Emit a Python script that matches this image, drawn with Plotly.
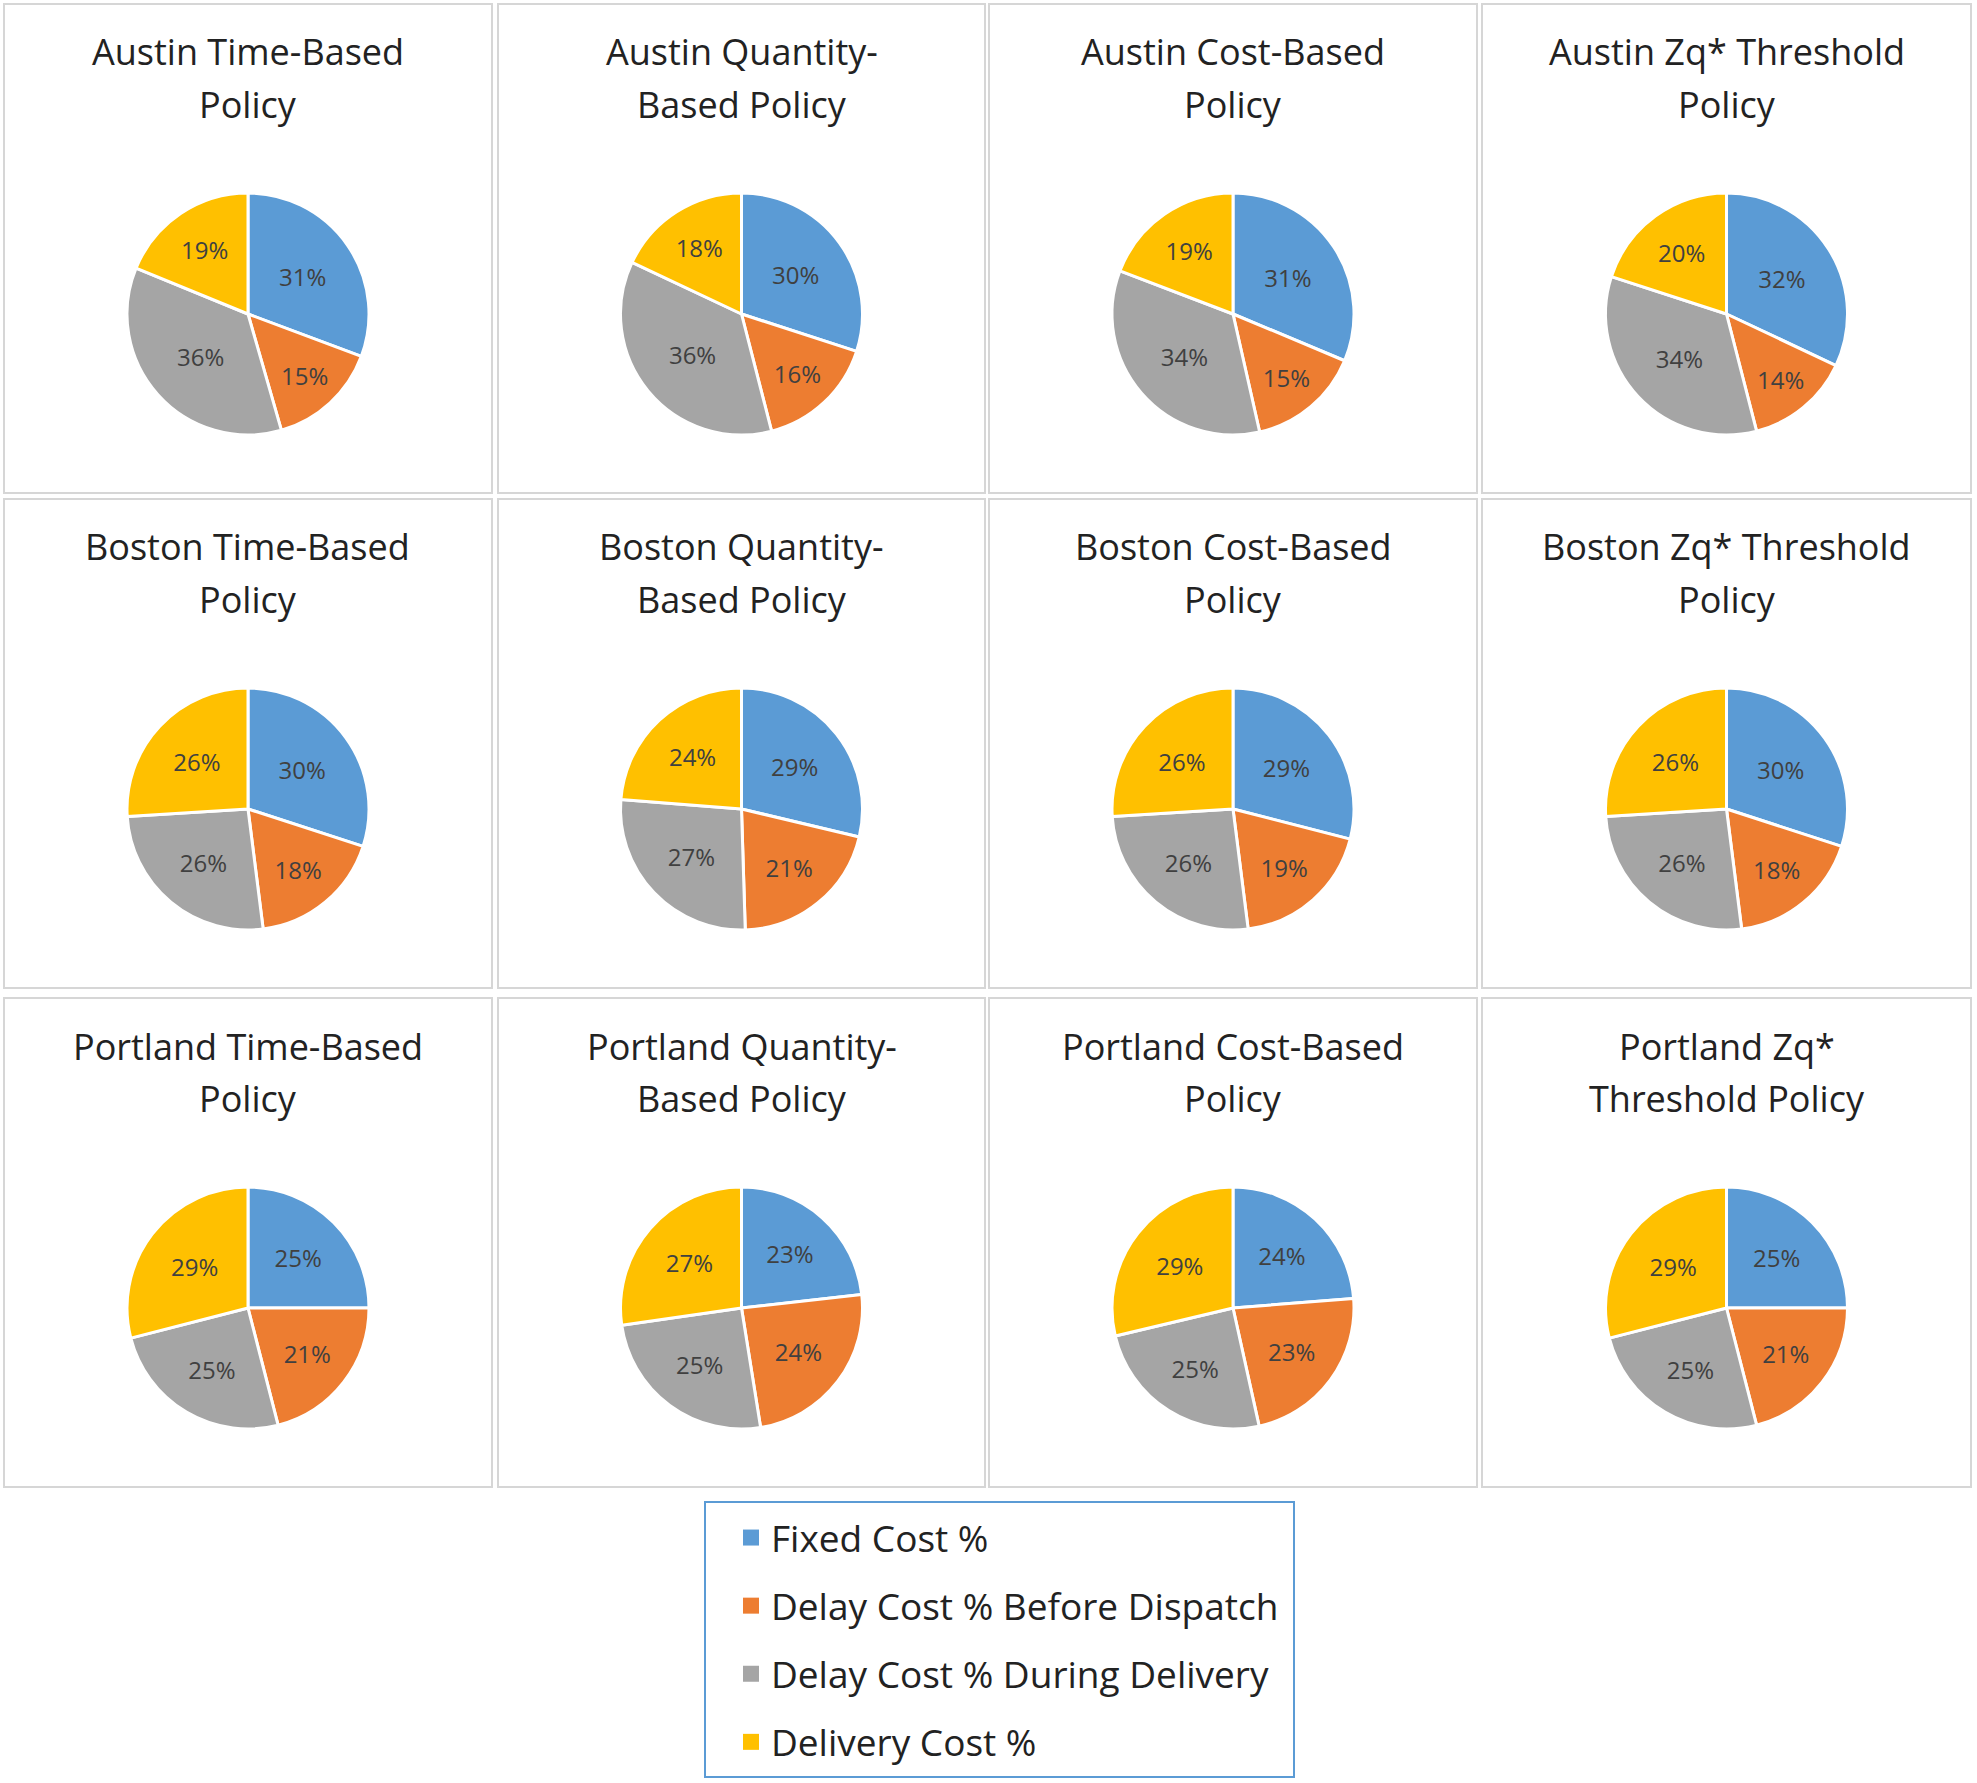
import plotly.graph_objects as go

W, H = 1977, 1783

categories = ["Fixed Cost %", "Delay Cost % Before Dispatch",
              "Delay Cost % During Delivery", "Delivery Cost %"]
colors = ["#5B9BD5", "#ED7D31", "#A5A5A5", "#FFC000"]

titles = [
    ["Austin Time-Based", "Policy"],
    ["Austin Quantity-", "Based Policy"],
    ["Austin Cost-Based", "Policy"],
    ["Austin Zq* Threshold", "Policy"],
    ["Boston Time-Based", "Policy"],
    ["Boston Quantity-", "Based Policy"],
    ["Boston Cost-Based", "Policy"],
    ["Boston Zq* Threshold", "Policy"],
    ["Portland Time-Based", "Policy"],
    ["Portland Quantity-", "Based Policy"],
    ["Portland Cost-Based", "Policy"],
    ["Portland Zq*", "Threshold Policy"],
]

austin_time = [31, 15, 36, 19]
austin_quantity = [30, 16, 36, 18]
austin_cost = [31, 15, 34, 19]
austin_zq = [32, 14, 34, 20]
boston_time = [30, 18, 26, 26]
boston_quantity = [29, 21, 27, 24]
boston_cost = [29, 19, 26, 26]
boston_zq = [30, 18, 26, 26]
portland_time = [25, 21, 25, 29]
portland_quantity = [23, 24, 25, 27]
portland_cost = [24, 23, 25, 29]
portland_zq = [25, 21, 25, 29]

series = [austin_time, austin_quantity, austin_cost, austin_zq,
          boston_time, boston_quantity, boston_cost, boston_zq,
          portland_time, portland_quantity, portland_cost, portland_zq]

# layout geometry (pixels)
col_edges = [(4, 492), (498, 985), (989, 1477), (1482, 1971)]
row_edges = [(4, 493), (499, 988), (998, 1487)]
R = 121
PIE_OFF = 310

def px(x):
    return x / W

def py(y):
    return 1 - y / H

fig = go.Figure()
shapes = []
annotations = []

for i, vals in enumerate(series):
    r, c = divmod(i, 4)
    x0, x1 = col_edges[c]
    y0, y1 = row_edges[r]
    cx = (x0 + x1) / 2
    cy = y0 + PIE_OFF
    fig.add_trace(go.Pie(
        labels=categories,
        values=vals,
        sort=False,
        direction="clockwise",
        rotation=0,
        marker=dict(colors=colors, line=dict(color="white", width=3)),
        texttemplate="%{value}%",
        textposition="inside",
        insidetextorientation="horizontal",
        textfont=dict(family="Open Sans", size=24, color="#404040"),
        hoverinfo="skip",
        showlegend=False,
        domain=dict(x=[px(cx - R), px(cx + R)], y=[py(cy + R), py(cy - R)]),
    ))
    shapes.append(dict(type="rect", xref="paper", yref="paper",
                       x0=px(x0), x1=px(x1), y0=py(y1), y1=py(y0),
                       line=dict(color="#D6D6D6", width=2)))
    for k, line in enumerate(titles[i]):
        annotations.append(dict(
            text=line, xref="paper", yref="paper",
            x=px(cx), y=py(y0 + 48 + 52 * k),
            xanchor="center", yanchor="middle", showarrow=False,
            font=dict(family="Open Sans", size=36, color="#222222")))

# legend entries
for name, col in zip(categories, colors):
    fig.add_trace(go.Scatter(
        x=[None], y=[None], mode="markers", name=name, legendgroup=name,
        marker=dict(symbol="square", size=18, color=col),
        hoverinfo="skip"))

shapes.append(dict(type="rect", xref="paper", yref="paper",
                   x0=px(705), x1=px(1294), y0=py(1777), y1=py(1502),
                   line=dict(color="#5B9BD5", width=2)))

fig.update_layout(
    width=W, height=H,
    margin=dict(l=0, r=0, t=0, b=0),
    paper_bgcolor="white", plot_bgcolor="white",
    xaxis=dict(visible=False), yaxis=dict(visible=False),
    shapes=shapes,
    annotations=annotations,
    showlegend=True,
    legend=dict(x=px(731), xanchor="left", y=py(1640), yanchor="middle",
                font=dict(family="Open Sans", size=37, color="#222222"),
                tracegroupgap=17, borderwidth=0, bgcolor="rgba(0,0,0,0)"),
)

fig.write_html("out.html")
